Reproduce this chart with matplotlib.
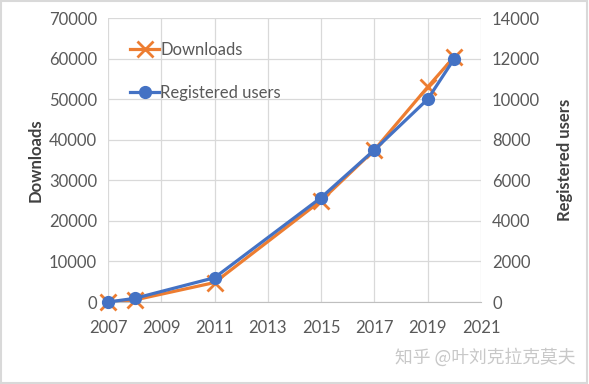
import matplotlib.pyplot as plt
from matplotlib.lines import Line2D

years = [2007, 2008, 2011, 2015, 2017, 2019, 2020]
downloads = [0, 500, 4800, 25000, 37500, 53000, 60500]
registered = [0, 180, 1200, 5150, 7500, 10000, 12000]

x_ticks = list(range(2007, 2022, 2))
orange = '#ED7D31'
blue = '#4472C4'
grey_text = '#595959'

plt.rcParams['font.family'] = ['Lato', 'DejaVu Sans']

fig = plt.figure(figsize=(5.89, 3.84), dpi=100)
ax = fig.add_axes([0.1834, 0.2135, 0.6332, 0.7395])
ax2 = ax.twinx()

ax.plot(years, downloads, color=orange, lw=2.3, marker='x', ms=12, mew=2.0,
        solid_joinstyle='round', clip_on=False)
ax2.plot(years, registered, color=blue, lw=2.3, marker='o', ms=8.5,
         solid_joinstyle='round', clip_on=False)

ax.set_xlim(2007, 2021)
ax.set_ylim(0, 70000)
ax2.set_ylim(0, 14000)
ax.set_xticks(x_ticks)
ax.set_yticks(range(0, 70001, 10000))
ax2.set_yticks(range(0, 14001, 2000))

ax.grid(True, color='#D9D9D9', lw=0.9)
ax.set_axisbelow(True)
for a in (ax, ax2):
    for s in a.spines.values():
        s.set_visible(False)
    a.tick_params(length=0, labelsize=12, colors=grey_text)
ax.tick_params(axis='x', pad=13)
ax.tick_params(axis='y', pad=8)
ax2.tick_params(axis='y', pad=8)
ax.spines['bottom'].set_visible(True)
ax.spines['bottom'].set_color('#BFBFBF')

ax.set_ylabel('Downloads', fontsize=12, fontweight='bold', color='#404040', labelpad=4)
ax2.set_ylabel('Registered users', fontsize=12, fontweight='bold', color='#404040',
               labelpad=12)

handles = [Line2D([], [], color=orange, lw=2.3, marker='x', ms=12, mew=2.0),
           Line2D([], [], color=blue, lw=2.3, marker='o', ms=8.5)]
leg = ax2.legend(handles, ['Downloads', 'Registered users'], loc='upper left',
                 bbox_to_anchor=(0.02, 0.97), frameon=False, fontsize=12,
                 labelspacing=1.65, handlelength=1.7, handletextpad=0.1,
                 labelcolor=grey_text)

fig.text(0.977, 0.068, '知乎 @叶刘克拉克莫夫', ha='right', va='center', fontsize=12.8,
         color='#C8C8C8', family=['Noto Sans CJK SC', 'DejaVu Sans'])

fig.patches.append(plt.Rectangle((0.002, 0.003), 0.995, 0.994, transform=fig.transFigure,
                                 fill=False, edgecolor='#D9D9D9', lw=1.5))

fig.savefig('out.png', dpi=100)
